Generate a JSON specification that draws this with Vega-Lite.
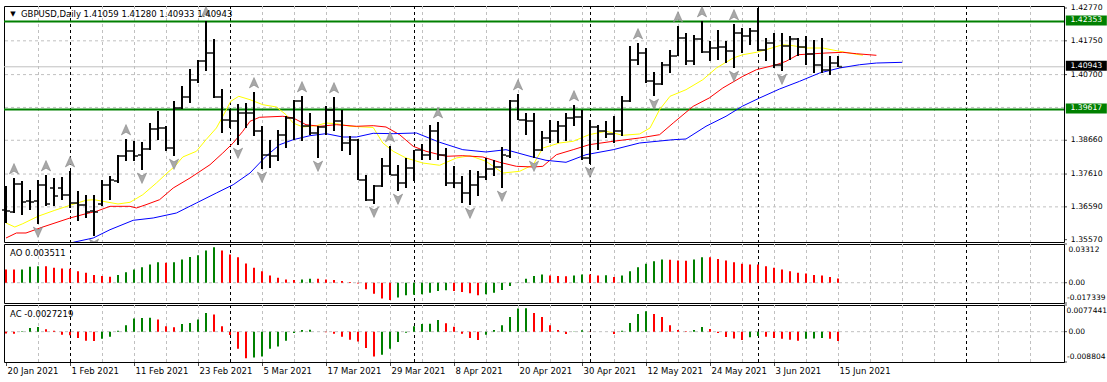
{
"$schema": "https://vega.github.io/schema/vega-lite/v6.json",
"background": "white",
"padding": {"left": 1, "top": 3, "right": 0, "bottom": 0},
"spacing": 2,
"bounds": "flush",
"resolve": {"scale": {"x": "independent", "y": "independent", "color": "independent"}},
"config": {
  "view": {"stroke": "#000000", "strokeWidth": 1},
  "text": {"font": "DejaVu Sans", "fontSize": 8.5, "color": "#000000"}
},
"datasets": {
  "vgrid": [{"i":4},{"i":12},{"i":16},{"i":20},{"i":24},{"i":32},{"i":36},{"i":40},{"i":44},{"i":48},{"i":52},{"i":56},{"i":60},{"i":64},{"i":68},{"i":72},{"i":76},{"i":80},{"i":84},{"i":88},{"i":92},{"i":96},{"i":100},{"i":104},{"i":108},{"i":112},{"i":116},{"i":124},{"i":128}],
  "seps": [{"i":8},{"i":28},{"i":51},{"i":73},{"i":94},{"i":120}],
  "hgrid": [{"p":1.4175},{"p":1.407},{"p":1.3968},{"p":1.3866},{"p":1.3761},{"p":1.3659}],
  "plab": [{"p":1.4277,"t":"1.42770"},{"p":1.4175,"t":"1.41750"},{"p":1.407,"t":"1.40700"},{"p":1.3866,"t":"1.38660"},{"p":1.3761,"t":"1.37610"},{"p":1.3659,"t":"1.36590"},{"p":1.3557,"t":"1.35570"}],
  "cur": [{"p":1.40943}],
  "lev": [{"p":1.42353},{"p":1.39617}],
  "gbox": [{"p":1.42353,"t":"1.42353"},{"p":1.39617,"t":"1.39617"}],
  "bbox": [{"p":1.40943,"t":"1.40943"}],
  "dates": [{"i":0,"t":"20 Jan 2021"},{"i":8,"t":"1 Feb 2021"},{"i":16,"t":"11 Feb 2021"},{"i":24,"t":"23 Feb 2021"},{"i":32,"t":"5 Mar 2021"},{"i":40,"t":"17 Mar 2021"},{"i":48,"t":"29 Mar 2021"},{"i":56,"t":"8 Apr 2021"},{"i":64,"t":"20 Apr 2021"},{"i":72,"t":"30 Apr 2021"},{"i":80,"t":"12 May 2021"},{"i":88,"t":"24 May 2021"},{"i":96,"t":"3 Jun 2021"},{"i":104,"t":"15 Jun 2021"}],
  "aolab": [{"v":0.03312,"t":"0.03312"},{"v":0,"t":"0.00"},{"v":-0.017339,"t":"-0.017339"}],
  "aclab": [{"v":0.0077441,"t":"0.0077441"},{"v":0,"t":"0.00"},{"v":-0.008804,"t":"-0.008804"}],
  "bars": [
{"i":0,"o":1.36493,"h":1.37238,"l":1.36089,"c":1.36462},
{"i":1,"o":1.36431,"h":1.37487,"l":1.36400,"c":1.37300},
{"i":2,"o":1.37300,"h":1.37394,"l":1.36337,"c":1.36741},
{"i":3,"o":1.36772,"h":1.37114,"l":1.36493,"c":1.36741},
{"i":4,"o":1.36772,"h":1.37425,"l":1.36058,"c":1.37269},
{"i":5,"o":1.37269,"h":1.37580,"l":1.36617,"c":1.36679},
{"i":6,"o":1.37176,"h":1.37487,"l":1.36617,"c":1.36928},
{"i":7,"o":1.37176,"h":1.37518,"l":1.36803,"c":1.36959},
{"i":8,"o":1.36959,"h":1.37704,"l":1.36555,"c":1.36710},
{"i":9,"o":1.36710,"h":1.37083,"l":1.36151,"c":1.36648},
{"i":10,"o":1.36648,"h":1.36959,"l":1.36244,"c":1.36431},
{"i":11,"o":1.36462,"h":1.36959,"l":1.35685,"c":1.36431},
{"i":12,"o":1.36679,"h":1.37425,"l":1.36617,"c":1.37269},
{"i":13,"o":1.37269,"h":1.37549,"l":1.36803,"c":1.37425},
{"i":14,"o":1.37394,"h":1.38202,"l":1.37332,"c":1.38170},
{"i":15,"o":1.38170,"h":1.38699,"l":1.38015,"c":1.38326},
{"i":16,"o":1.38326,"h":1.38637,"l":1.38015,"c":1.38170},
{"i":17,"o":1.38202,"h":1.38605,"l":1.37735,"c":1.38388},
{"i":18,"o":1.38388,"h":1.39196,"l":1.38357,"c":1.39010},
{"i":19,"o":1.39010,"h":1.39569,"l":1.38668,"c":1.39041},
{"i":20,"o":1.39041,"h":1.39103,"l":1.38326,"c":1.38419},
{"i":21,"o":1.38419,"h":1.39880,"l":1.38170,"c":1.39662},
{"i":22,"o":1.39662,"h":1.40346,"l":1.39631,"c":1.40004},
{"i":23,"o":1.40004,"h":1.40874,"l":1.39818,"c":1.40532},
{"i":24,"o":1.40532,"h":1.41154,"l":1.40439,"c":1.41123},
{"i":25,"o":1.41123,"h":1.42366,"l":1.40812,"c":1.41371},
{"i":26,"o":1.41371,"h":1.41806,"l":1.39973,"c":1.40004},
{"i":27,"o":1.40004,"h":1.40253,"l":1.38885,"c":1.39289},
{"i":28,"o":1.39289,"h":1.39631,"l":1.39041,"c":1.39258},
{"i":29,"o":1.39258,"h":1.39786,"l":1.38512,"c":1.39507},
{"i":30,"o":1.39507,"h":1.39818,"l":1.39041,"c":1.39507},
{"i":31,"o":1.39507,"h":1.40159,"l":1.38792,"c":1.38947},
{"i":32,"o":1.38947,"h":1.39103,"l":1.37767,"c":1.38202},
{"i":33,"o":1.38202,"h":1.38668,"l":1.37798,"c":1.38170},
{"i":34,"o":1.38170,"h":1.38978,"l":1.38015,"c":1.38823},
{"i":35,"o":1.38823,"h":1.39413,"l":1.38419,"c":1.39351},
{"i":36,"o":1.39351,"h":1.39911,"l":1.38668,"c":1.39880},
{"i":37,"o":1.39880,"h":1.40035,"l":1.38637,"c":1.39103},
{"i":38,"o":1.39103,"h":1.39507,"l":1.38823,"c":1.38885},
{"i":39,"o":1.38885,"h":1.39103,"l":1.38108,"c":1.39072},
{"i":40,"o":1.39072,"h":1.39724,"l":1.38823,"c":1.39600},
{"i":41,"o":1.39600,"h":1.40004,"l":1.38947,"c":1.39258},
{"i":42,"o":1.39258,"h":1.39600,"l":1.38326,"c":1.38574},
{"i":43,"o":1.38574,"h":1.38792,"l":1.38202,"c":1.38668},
{"i":44,"o":1.38668,"h":1.38699,"l":1.37425,"c":1.37425},
{"i":45,"o":1.37425,"h":1.37580,"l":1.36772,"c":1.36803},
{"i":46,"o":1.36803,"h":1.37269,"l":1.36679,"c":1.37238},
{"i":47,"o":1.37238,"h":1.38108,"l":1.37207,"c":1.37860},
{"i":48,"o":1.37860,"h":1.38481,"l":1.37580,"c":1.37580},
{"i":49,"o":1.37580,"h":1.37891,"l":1.37083,"c":1.37332},
{"i":50,"o":1.37332,"h":1.38108,"l":1.37176,"c":1.37798},
{"i":51,"o":1.37798,"h":1.38357,"l":1.37394,"c":1.38357},
{"i":52,"o":1.38357,"h":1.38543,"l":1.38046,"c":1.38202},
{"i":53,"o":1.38202,"h":1.39134,"l":1.38046,"c":1.38947},
{"i":54,"o":1.38947,"h":1.39227,"l":1.38046,"c":1.38202},
{"i":55,"o":1.38202,"h":1.38419,"l":1.37238,"c":1.37332},
{"i":56,"o":1.37332,"h":1.37860,"l":1.37176,"c":1.37332},
{"i":57,"o":1.37332,"h":1.37549,"l":1.36710,"c":1.37021},
{"i":58,"o":1.37021,"h":1.37735,"l":1.36648,"c":1.37269},
{"i":59,"o":1.37269,"h":1.37704,"l":1.36928,"c":1.37518},
{"i":60,"o":1.37518,"h":1.38108,"l":1.37425,"c":1.37767},
{"i":61,"o":1.37767,"h":1.38046,"l":1.37549,"c":1.37829},
{"i":62,"o":1.37829,"h":1.38450,"l":1.37176,"c":1.38202},
{"i":63,"o":1.38170,"h":1.39911,"l":1.38108,"c":1.39880},
{"i":64,"o":1.39880,"h":1.40097,"l":1.39289,"c":1.39289},
{"i":65,"o":1.39289,"h":1.39507,"l":1.38823,"c":1.39258},
{"i":66,"o":1.39258,"h":1.39507,"l":1.38108,"c":1.38357},
{"i":67,"o":1.38357,"h":1.38947,"l":1.38326,"c":1.38730},
{"i":68,"o":1.38730,"h":1.39289,"l":1.38574,"c":1.38947},
{"i":69,"o":1.38947,"h":1.39258,"l":1.38574,"c":1.39103},
{"i":70,"o":1.39103,"h":1.39507,"l":1.38637,"c":1.39351},
{"i":71,"o":1.39351,"h":1.39755,"l":1.39103,"c":1.39382},
{"i":72,"o":1.39382,"h":1.39600,"l":1.38046,"c":1.38108},
{"i":73,"o":1.38108,"h":1.39289,"l":1.37922,"c":1.39072},
{"i":74,"o":1.39072,"h":1.39134,"l":1.38357,"c":1.38947},
{"i":75,"o":1.38947,"h":1.39258,"l":1.38730,"c":1.38854},
{"i":76,"o":1.38854,"h":1.39413,"l":1.38574,"c":1.38947},
{"i":77,"o":1.38947,"h":1.40035,"l":1.38792,"c":1.39880},
{"i":78,"o":1.39880,"h":1.41589,"l":1.39849,"c":1.41154},
{"i":79,"o":1.41154,"h":1.41682,"l":1.40998,"c":1.41371},
{"i":80,"o":1.41371,"h":1.41527,"l":1.40439,"c":1.40501},
{"i":81,"o":1.40501,"h":1.40781,"l":1.40035,"c":1.40408},
{"i":82,"o":1.40408,"h":1.41092,"l":1.40377,"c":1.40998},
{"i":83,"o":1.40998,"h":1.41465,"l":1.40750,"c":1.41278},
{"i":84,"o":1.41278,"h":1.42210,"l":1.41278,"c":1.41837},
{"i":85,"o":1.41837,"h":1.41993,"l":1.40998,"c":1.41123},
{"i":86,"o":1.41123,"h":1.41931,"l":1.40998,"c":1.41806},
{"i":87,"o":1.41806,"h":1.42366,"l":1.41371,"c":1.41402},
{"i":88,"o":1.41402,"h":1.41744,"l":1.41123,"c":1.41527},
{"i":89,"o":1.41527,"h":1.42086,"l":1.41154,"c":1.41558},
{"i":90,"o":1.41558,"h":1.41744,"l":1.41060,"c":1.41433},
{"i":91,"o":1.41433,"h":1.42272,"l":1.40905,"c":1.41993},
{"i":92,"o":1.41993,"h":1.42148,"l":1.41371,"c":1.41900},
{"i":93,"o":1.41900,"h":1.42148,"l":1.41620,"c":1.42055},
{"i":94,"o":1.42055,"h":1.42770,"l":1.41433,"c":1.41465},
{"i":95,"o":1.41465,"h":1.41837,"l":1.41123,"c":1.41682},
{"i":96,"o":1.41682,"h":1.41993,"l":1.40905,"c":1.40998},
{"i":97,"o":1.40998,"h":1.41993,"l":1.40812,"c":1.41589},
{"i":98,"o":1.41589,"h":1.41900,"l":1.41154,"c":1.41806},
{"i":99,"o":1.41806,"h":1.41837,"l":1.41278,"c":1.41558},
{"i":100,"o":1.41558,"h":1.41900,"l":1.40998,"c":1.41340},
{"i":101,"o":1.41340,"h":1.41775,"l":1.40750,"c":1.40998},
{"i":102,"o":1.40998,"h":1.41837,"l":1.40750,"c":1.40843},
{"i":103,"o":1.40843,"h":1.41278,"l":1.40688,"c":1.41060},
{"i":104,"o":1.41059,"h":1.41280,"l":1.40933,"c":1.40943}
  ],
  "fu": [{"i":1,"p":1.37487},{"i":5,"p":1.37580},{"i":8,"p":1.37704},{"i":15,"p":1.38699},{"i":25,"p":1.42366},{"i":31,"p":1.40159},{"i":37,"p":1.40035},{"i":41,"p":1.40004},{"i":48,"p":1.38481},{"i":54,"p":1.39227},{"i":64,"p":1.40097},{"i":71,"p":1.39755},{"i":79,"p":1.41682},{"i":84,"p":1.42210},{"i":87,"p":1.42366},{"i":91,"p":1.42272},{"i":94,"p":1.42770}],
  "fd": [{"i":4,"p":1.36058},{"i":11,"p":1.35685},{"i":17,"p":1.37735},{"i":21,"p":1.38170},{"i":29,"p":1.38512},{"i":32,"p":1.37767},{"i":39,"p":1.38108},{"i":46,"p":1.36679},{"i":49,"p":1.37083},{"i":58,"p":1.36648},{"i":62,"p":1.37176},{"i":66,"p":1.38108},{"i":73,"p":1.37922},{"i":81,"p":1.40035},{"i":91,"p":1.40905},{"i":97,"p":1.40812}],
  "ma": [
{"s":"y","i":0,"p":1.36088},{"s":"y","i":1.1,"p":1.35964},{"s":"y","i":2.1,"p":1.36067},{"s":"y","i":4,"p":1.36297},{"s":"y","i":6.1,"p":1.36483},{"s":"y","i":8,"p":1.36639},{"s":"y","i":10,"p":1.36794},{"s":"y","i":11,"p":1.36813},{"s":"y","i":12.1,"p":1.36763},{"s":"y","i":14,"p":1.36679},{"s":"y","i":15.5,"p":1.36732},{"s":"y","i":17.1,"p":1.36968},{"s":"y","i":18.8,"p":1.37332},{"s":"y","i":20,"p":1.37611},{"s":"y","i":21.1,"p":1.37850},{"s":"y","i":22.1,"p":1.38140},{"s":"y","i":23.8,"p":1.38317},{"s":"y","i":25,"p":1.38677},{"s":"y","i":26.3,"p":1.39041},{"s":"y","i":27.1,"p":1.39405},{"s":"y","i":28.1,"p":1.39871},{"s":"y","i":29.1,"p":1.40026},{"s":"y","i":30.5,"p":1.39921},{"s":"y","i":32.1,"p":1.39765},{"s":"y","i":33.8,"p":1.39694},{"s":"y","i":35,"p":1.39454},{"s":"y","i":35.9,"p":1.39196},{"s":"y","i":37.1,"p":1.39072},{"s":"y","i":38.8,"p":1.39113},{"s":"y","i":40,"p":1.39196},{"s":"y","i":41.3,"p":1.39175},{"s":"y","i":43,"p":1.39094},{"s":"y","i":45.9,"p":1.39057},{"s":"y","i":47.1,"p":1.38575},{"s":"y","i":48.4,"p":1.38317},{"s":"y","i":50,"p":1.38109},{"s":"y","i":52.1,"p":1.37953},{"s":"y","i":54.2,"p":1.37882},{"s":"y","i":56.3,"p":1.38109},{"s":"y","i":58,"p":1.38180},{"s":"y","i":60,"p":1.38006},{"s":"y","i":62.1,"p":1.37642},{"s":"y","i":64.2,"p":1.37695},{"s":"y","i":65.9,"p":1.37900},{"s":"y","i":67.1,"p":1.38419},{"s":"y","i":69.2,"p":1.38575},{"s":"y","i":70.9,"p":1.38628},{"s":"y","i":72.9,"p":1.38833},{"s":"y","i":75,"p":1.38939},{"s":"y","i":77.1,"p":1.38814},{"s":"y","i":79.2,"p":1.38855},{"s":"y","i":80.5,"p":1.39041},{"s":"y","i":81.7,"p":1.39610},{"s":"y","i":83,"p":1.40026},{"s":"y","i":85,"p":1.40231},{"s":"y","i":87.1,"p":1.40541},{"s":"y","i":88.8,"p":1.40905},{"s":"y","i":90.9,"p":1.41216},{"s":"y","i":92.1,"p":1.41318},{"s":"y","i":93.8,"p":1.41393},{"s":"y","i":95,"p":1.41474},{"s":"y","i":97.1,"p":1.41629},{"s":"y","i":98.4,"p":1.41598},{"s":"y","i":100,"p":1.41526},{"s":"y","i":102.1,"p":1.41526},{"s":"y","i":104.2,"p":1.41424},{"s":"y","i":105.9,"p":1.41349},{"s":"y","i":107.1,"p":1.41300},
{"s":"r","i":0,"p":1.35622},{"s":"r","i":1.3,"p":1.35778},{"s":"r","i":2.5,"p":1.35778},{"s":"r","i":4.6,"p":1.35964},{"s":"r","i":8,"p":1.36244},{"s":"r","i":10,"p":1.36377},{"s":"r","i":11.3,"p":1.36452},{"s":"r","i":13,"p":1.36607},{"s":"r","i":15.5,"p":1.36607},{"s":"r","i":16.3,"p":1.36555},{"s":"r","i":17.5,"p":1.36657},{"s":"r","i":19.2,"p":1.36813},{"s":"r","i":20.9,"p":1.37176},{"s":"r","i":23,"p":1.37487},{"s":"r","i":25.5,"p":1.37900},{"s":"r","i":27.1,"p":1.38264},{"s":"r","i":28.4,"p":1.38575},{"s":"r","i":29.6,"p":1.38939},{"s":"r","i":30.5,"p":1.39249},{"s":"r","i":31.7,"p":1.39374},{"s":"r","i":34.6,"p":1.39405},{"s":"r","i":35.9,"p":1.39352},{"s":"r","i":37.5,"p":1.39144},{"s":"r","i":39.2,"p":1.39094},{"s":"r","i":41.3,"p":1.39144},{"s":"r","i":43.8,"p":1.39094},{"s":"r","i":45.9,"p":1.39113},{"s":"r","i":47.5,"p":1.39072},{"s":"r","i":49.2,"p":1.38833},{"s":"r","i":50.9,"p":1.38472},{"s":"r","i":52.5,"p":1.38317},{"s":"r","i":55,"p":1.38161},{"s":"r","i":57.1,"p":1.38180},{"s":"r","i":59.6,"p":1.38140},{"s":"r","i":61.7,"p":1.37975},{"s":"r","i":63.8,"p":1.37850},{"s":"r","i":65.9,"p":1.37829},{"s":"r","i":67.1,"p":1.37850},{"s":"r","i":68.8,"p":1.38211},{"s":"r","i":70.9,"p":1.38367},{"s":"r","i":72.9,"p":1.38522},{"s":"r","i":75.9,"p":1.38628},{"s":"r","i":79.2,"p":1.38730},{"s":"r","i":81.7,"p":1.38833},{"s":"r","i":83.4,"p":1.39196},{"s":"r","i":85.9,"p":1.39715},{"s":"r","i":87.9,"p":1.39973},{"s":"r","i":89.6,"p":1.40284},{"s":"r","i":92.1,"p":1.40646},{"s":"r","i":93.8,"p":1.40852},{"s":"r","i":96.3,"p":1.41007},{"s":"r","i":97.5,"p":1.41113},{"s":"r","i":99,"p":1.41318},{"s":"r","i":102.5,"p":1.41371},{"s":"r","i":104.6,"p":1.41393},{"s":"r","i":106.3,"p":1.41349},{"s":"r","i":108.8,"p":1.41300},
{"s":"b","i":8.4,"p":1.35488},{"s":"b","i":10.9,"p":1.35622},{"s":"b","i":13,"p":1.35880},{"s":"b","i":15.9,"p":1.36172},{"s":"b","i":18.4,"p":1.36244},{"s":"b","i":21.3,"p":1.36399},{"s":"b","i":23.8,"p":1.36710},{"s":"b","i":26.3,"p":1.37021},{"s":"b","i":28.4,"p":1.37279},{"s":"b","i":30.5,"p":1.37642},{"s":"b","i":32.5,"p":1.38161},{"s":"b","i":34.2,"p":1.38522},{"s":"b","i":35.9,"p":1.38677},{"s":"b","i":38,"p":1.38802},{"s":"b","i":40,"p":1.38864},{"s":"b","i":42.1,"p":1.38761},{"s":"b","i":43.8,"p":1.38761},{"s":"b","i":45.9,"p":1.38876},{"s":"b","i":48.4,"p":1.38864},{"s":"b","i":51.3,"p":1.38886},{"s":"b","i":54.2,"p":1.38597},{"s":"b","i":57.1,"p":1.38367},{"s":"b","i":60,"p":1.38295},{"s":"b","i":62.5,"p":1.38367},{"s":"b","i":65.5,"p":1.38161},{"s":"b","i":67.5,"p":1.38037},{"s":"b","i":70,"p":1.37975},{"s":"b","i":72.5,"p":1.38211},{"s":"b","i":75.9,"p":1.38367},{"s":"b","i":79.2,"p":1.38575},{"s":"b","i":83.4,"p":1.38677},{"s":"b","i":85,"p":1.38699},{"s":"b","i":87.5,"p":1.39094},{"s":"b","i":90,"p":1.39405},{"s":"b","i":92.1,"p":1.39725},{"s":"b","i":94.2,"p":1.39973},{"s":"b","i":96.7,"p":1.40253},{"s":"b","i":99.2,"p":1.40492},{"s":"b","i":101.7,"p":1.40750},{"s":"b","i":104.2,"p":1.40905},{"s":"b","i":106.7,"p":1.41007},{"s":"b","i":108.8,"p":1.41060},{"s":"b","i":112,"p":1.41082}
  ],
  "ao": [
{"i":0,"v":0.01133,"c":"r"},{"i":1,"v":0.01130,"c":"r"},{"i":2,"v":0.01140,"c":"g"},{"i":3,"v":0.01359,"c":"g"},{"i":4,"v":0.01416,"c":"g"},{"i":5,"v":0.01410,"c":"r"},{"i":6,"v":0.01274,"c":"r"},{"i":7,"v":0.01218,"c":"r"},{"i":8,"v":0.01189,"c":"r"},{"i":9,"v":0.00991,"c":"r"},{"i":10,"v":0.00850,"c":"r"},{"i":11,"v":0.00651,"c":"r"},{"i":12,"v":0.00566,"c":"r"},{"i":13,"v":0.00510,"c":"r"},{"i":14,"v":0.00651,"c":"g"},{"i":15,"v":0.00906,"c":"g"},{"i":16,"v":0.01133,"c":"g"},{"i":17,"v":0.01331,"c":"g"},{"i":18,"v":0.01558,"c":"g"},{"i":19,"v":0.01756,"c":"g"},{"i":20,"v":0.01699,"c":"r"},{"i":21,"v":0.01756,"c":"g"},{"i":22,"v":0.01982,"c":"g"},{"i":23,"v":0.02209,"c":"g"},{"i":24,"v":0.02351,"c":"g"},{"i":25,"v":0.02747,"c":"g"},{"i":26,"v":0.03030,"c":"g"},{"i":27,"v":0.02747,"c":"r"},{"i":28,"v":0.02407,"c":"r"},{"i":29,"v":0.02181,"c":"r"},{"i":30,"v":0.01643,"c":"r"},{"i":31,"v":0.01274,"c":"r"},{"i":32,"v":0.00991,"c":"r"},{"i":33,"v":0.00623,"c":"r"},{"i":34,"v":0.00425,"c":"r"},{"i":35,"v":0.00283,"c":"r"},{"i":36,"v":0.00227,"c":"r"},{"i":37,"v":0.00283,"c":"g"},{"i":38,"v":0.00340,"c":"g"},{"i":39,"v":0.00330,"c":"r"},{"i":40,"v":0.00283,"c":"r"},{"i":41,"v":0.00227,"c":"r"},{"i":42,"v":0.00142,"c":"r"},{"i":43,"v":0.00057,"c":"r"},{"i":44,"v":-0.00057,"c":"r"},{"i":45,"v":-0.00566,"c":"r"},{"i":46,"v":-0.00935,"c":"r"},{"i":47,"v":-0.01359,"c":"r"},{"i":48,"v":-0.01473,"c":"r"},{"i":49,"v":-0.01274,"c":"g"},{"i":50,"v":-0.01076,"c":"g"},{"i":51,"v":-0.01020,"c":"g"},{"i":52,"v":-0.00991,"c":"g"},{"i":53,"v":-0.00850,"c":"g"},{"i":54,"v":-0.00708,"c":"g"},{"i":55,"v":-0.00651,"c":"g"},{"i":56,"v":-0.00708,"c":"r"},{"i":57,"v":-0.00793,"c":"r"},{"i":58,"v":-0.00906,"c":"r"},{"i":59,"v":-0.01076,"c":"r"},{"i":60,"v":-0.00991,"c":"g"},{"i":61,"v":-0.00850,"c":"g"},{"i":62,"v":-0.00623,"c":"g"},{"i":63,"v":-0.00283,"c":"g"},{"i":64,"v":0.00030,"c":"g"},{"i":65,"v":0.00340,"c":"g"},{"i":66,"v":0.00566,"c":"g"},{"i":67,"v":0.00708,"c":"g"},{"i":68,"v":0.00623,"c":"r"},{"i":69,"v":0.00566,"c":"r"},{"i":70,"v":0.00560,"c":"r"},{"i":71,"v":0.00623,"c":"g"},{"i":72,"v":0.00708,"c":"g"},{"i":73,"v":0.00700,"c":"r"},{"i":74,"v":0.00623,"c":"r"},{"i":75,"v":0.00630,"c":"g"},{"i":76,"v":0.00481,"c":"r"},{"i":77,"v":0.00623,"c":"g"},{"i":78,"v":0.00991,"c":"g"},{"i":79,"v":0.01331,"c":"g"},{"i":80,"v":0.01614,"c":"g"},{"i":81,"v":0.01841,"c":"g"},{"i":82,"v":0.01982,"c":"g"},{"i":83,"v":0.01975,"c":"r"},{"i":84,"v":0.01897,"c":"r"},{"i":85,"v":0.01890,"c":"r"},{"i":86,"v":0.01982,"c":"g"},{"i":87,"v":0.02181,"c":"g"},{"i":88,"v":0.02175,"c":"r"},{"i":89,"v":0.02039,"c":"r"},{"i":90,"v":0.01897,"c":"r"},{"i":91,"v":0.01756,"c":"r"},{"i":92,"v":0.01614,"c":"r"},{"i":93,"v":0.01558,"c":"r"},{"i":94,"v":0.01550,"c":"r"},{"i":95,"v":0.01416,"c":"r"},{"i":96,"v":0.01274,"c":"r"},{"i":97,"v":0.01133,"c":"r"},{"i":98,"v":0.00991,"c":"r"},{"i":99,"v":0.00850,"c":"r"},{"i":100,"v":0.00793,"c":"r"},{"i":101,"v":0.00651,"c":"r"},{"i":102,"v":0.00623,"c":"r"},{"i":103,"v":0.00481,"c":"r"},{"i":104,"v":0.003511,"c":"r"}
  ],
  "ac": [
{"i":0,"v":-0.00050,"c":"r"},{"i":1,"v":-0.00058,"c":"r"},{"i":2,"v":0.00010,"c":"g"},{"i":3,"v":0.00107,"c":"g"},{"i":4,"v":0.00136,"c":"g"},{"i":5,"v":0.00068,"c":"r"},{"i":6,"v":0.00029,"c":"r"},{"i":7,"v":-0.00088,"c":"r"},{"i":8,"v":-0.00107,"c":"r"},{"i":9,"v":-0.00185,"c":"r"},{"i":10,"v":-0.00263,"c":"r"},{"i":11,"v":-0.00270,"c":"r"},{"i":12,"v":-0.00204,"c":"g"},{"i":13,"v":-0.00146,"c":"g"},{"i":14,"v":0.00030,"c":"g"},{"i":15,"v":0.00185,"c":"g"},{"i":16,"v":0.00379,"c":"g"},{"i":17,"v":0.00399,"c":"g"},{"i":18,"v":0.00405,"c":"g"},{"i":19,"v":0.00350,"c":"r"},{"i":20,"v":0.00156,"c":"r"},{"i":21,"v":0.00126,"c":"r"},{"i":22,"v":0.00224,"c":"g"},{"i":23,"v":0.00253,"c":"g"},{"i":24,"v":0.00350,"c":"g"},{"i":25,"v":0.00545,"c":"g"},{"i":26,"v":0.00496,"c":"r"},{"i":27,"v":0.00156,"c":"r"},{"i":28,"v":-0.00100,"c":"r"},{"i":29,"v":-0.00496,"c":"r"},{"i":30,"v":-0.00769,"c":"r"},{"i":31,"v":-0.00750,"c":"g"},{"i":32,"v":-0.00720,"c":"g"},{"i":33,"v":-0.00496,"c":"g"},{"i":34,"v":-0.00428,"c":"g"},{"i":35,"v":-0.00263,"c":"g"},{"i":36,"v":-0.00039,"c":"g"},{"i":37,"v":0.00049,"c":"g"},{"i":38,"v":0.00055,"c":"g"},{"i":39,"v":-0.00003,"c":"r"},{"i":40,"v":-0.00020,"c":"r"},{"i":41,"v":-0.00058,"c":"r"},{"i":42,"v":-0.00146,"c":"r"},{"i":43,"v":-0.00234,"c":"r"},{"i":44,"v":-0.00282,"c":"r"},{"i":45,"v":-0.00477,"c":"r"},{"i":46,"v":-0.00720,"c":"r"},{"i":47,"v":-0.00671,"c":"g"},{"i":48,"v":-0.00496,"c":"g"},{"i":49,"v":-0.00302,"c":"g"},{"i":50,"v":-0.00029,"c":"g"},{"i":51,"v":0.00156,"c":"g"},{"i":52,"v":0.00224,"c":"g"},{"i":53,"v":0.00230,"c":"g"},{"i":54,"v":0.00340,"c":"g"},{"i":55,"v":0.00243,"c":"r"},{"i":56,"v":0.00146,"c":"r"},{"i":57,"v":-0.00058,"c":"r"},{"i":58,"v":-0.00185,"c":"r"},{"i":59,"v":-0.00243,"c":"r"},{"i":60,"v":-0.00088,"c":"g"},{"i":61,"v":0.00049,"c":"g"},{"i":62,"v":0.00185,"c":"g"},{"i":63,"v":0.00428,"c":"g"},{"i":64,"v":0.00671,"c":"g"},{"i":65,"v":0.00680,"c":"g"},{"i":66,"v":0.00545,"c":"r"},{"i":67,"v":0.00428,"c":"r"},{"i":68,"v":0.00185,"c":"r"},{"i":69,"v":0.00050,"c":"r"},{"i":70,"v":-0.00068,"c":"r"},{"i":71,"v":0.00005,"c":"g"},{"i":72,"v":0.00039,"c":"g"},{"i":73,"v":0.00003,"c":"r"},{"i":74,"v":-0.00002,"c":"r"},{"i":75,"v":-0.00005,"c":"r"},{"i":76,"v":-0.00068,"c":"r"},{"i":77,"v":0.00030,"c":"g"},{"i":78,"v":0.00253,"c":"g"},{"i":79,"v":0.00516,"c":"g"},{"i":80,"v":0.00594,"c":"g"},{"i":81,"v":0.00516,"c":"r"},{"i":82,"v":0.00428,"c":"r"},{"i":83,"v":0.00185,"c":"r"},{"i":84,"v":0.00049,"c":"r"},{"i":85,"v":0.00010,"c":"r"},{"i":86,"v":0.00049,"c":"g"},{"i":87,"v":0.00136,"c":"g"},{"i":88,"v":0.00078,"c":"r"},{"i":89,"v":-0.00039,"c":"r"},{"i":90,"v":-0.00156,"c":"r"},{"i":91,"v":-0.00195,"c":"r"},{"i":92,"v":-0.00243,"c":"r"},{"i":93,"v":-0.00165,"c":"g"},{"i":94,"v":-0.00126,"c":"g"},{"i":95,"v":-0.00146,"c":"r"},{"i":96,"v":-0.00185,"c":"r"},{"i":97,"v":-0.00204,"c":"r"},{"i":98,"v":-0.00234,"c":"r"},{"i":99,"v":-0.00263,"c":"r"},{"i":100,"v":-0.00204,"c":"g"},{"i":101,"v":-0.00200,"c":"g"},{"i":102,"v":-0.00185,"c":"g"},{"i":103,"v":-0.00204,"c":"r"},{"i":104,"v":-0.0027219,"c":"r"}
  ]
},
"vconcat": [
{
  "width": 1060, "height": 236,
  "layer": [
    {"data": {"name": "vgrid"}, "mark": {"type": "rule", "stroke": "#c0c0c0", "strokeDash": [3,3], "strokeWidth": 1, "xOffset": 0.5},
     "encoding": {"x": {"field": "i", "type": "quantitative", "scale": {"domain": [-0.25, 132.25], "nice": false, "zero": false}, "axis": null}}},
    {"data": {"name": "hgrid"}, "mark": {"type": "rule", "stroke": "#c0c0c0", "strokeDash": [3,3], "strokeWidth": 1},
     "encoding": {"y": {"field": "p", "type": "quantitative", "scale": {"domain": [1.35498, 1.42832], "nice": false, "zero": false}, "axis": null}}},
    {"data": {"name": "seps"}, "mark": {"type": "rule", "stroke": "#000000", "strokeDash": [3,3], "strokeWidth": 1, "xOffset": 0.5},
     "encoding": {"x": {"field": "i", "type": "quantitative", "scale": {"domain": [-0.25, 132.25], "nice": false, "zero": false}, "axis": null}}},
    {"data": {"name": "cur"}, "mark": {"type": "rule", "stroke": "#c0c0c0", "strokeWidth": 1},
     "encoding": {"y": {"field": "p", "type": "quantitative", "scale": {"domain": [1.35498, 1.42832], "nice": false, "zero": false}, "axis": null}}},
    {"data": {"name": "lev"}, "mark": {"type": "rule", "stroke": "#008000", "strokeWidth": 2},
     "encoding": {"y": {"field": "p", "type": "quantitative", "scale": {"domain": [1.35498, 1.42832], "nice": false, "zero": false}, "axis": null}}},
    {"data": {"name": "ma"}, "mark": {"type": "line", "strokeWidth": 1, "clip": true},
     "encoding": {
       "x": {"field": "i", "type": "quantitative", "scale": {"domain": [-0.25, 132.25], "nice": false, "zero": false}, "axis": null},
       "y": {"field": "p", "type": "quantitative", "scale": {"domain": [1.35498, 1.42832], "nice": false, "zero": false}, "axis": null},
       "color": {"field": "s", "type": "nominal", "scale": {"domain": ["y", "r", "b"], "range": ["#ffff00", "#ff0000", "#0000ff"]}, "legend": null}}},
    {"data": {"name": "bars"}, "mark": {"type": "rule", "stroke": "#000000", "strokeWidth": 2, "clip": true},
     "encoding": {
       "x": {"field": "i", "type": "quantitative", "scale": {"domain": [-0.25, 132.25], "nice": false, "zero": false}, "axis": null},
       "y": {"field": "h", "type": "quantitative", "scale": {"domain": [1.35498, 1.42832], "nice": false, "zero": false}, "axis": null},
       "y2": {"field": "l"}}},
    {"data": {"name": "bars"}, "mark": {"type": "tick", "orient": "horizontal", "size": 3, "thickness": 2, "xOffset": -2.5, "color": "#000000"},
     "encoding": {
       "x": {"field": "i", "type": "quantitative", "scale": {"domain": [-0.25, 132.25], "nice": false, "zero": false}, "axis": null},
       "y": {"field": "o", "type": "quantitative", "scale": {"domain": [1.35498, 1.42832], "nice": false, "zero": false}, "axis": null}}},
    {"data": {"name": "bars"}, "mark": {"type": "tick", "orient": "horizontal", "size": 3, "thickness": 2, "xOffset": 2.5, "color": "#000000"},
     "encoding": {
       "x": {"field": "i", "type": "quantitative", "scale": {"domain": [-0.25, 132.25], "nice": false, "zero": false}, "axis": null},
       "y": {"field": "c", "type": "quantitative", "scale": {"domain": [1.35498, 1.42832], "nice": false, "zero": false}, "axis": null}}},
    {"data": {"name": "fu"}, "mark": {"type": "point", "shape": "M0,-1L0.85,0.9L0,0.4L-0.85,0.9Z", "size": 120, "filled": true, "fill": "#a8a8a8", "stroke": "#7c7c7c", "strokeWidth": 0.5, "opacity": 1, "yOffset": -9, "clip": true},
     "encoding": {
       "x": {"field": "i", "type": "quantitative", "scale": {"domain": [-0.25, 132.25], "nice": false, "zero": false}, "axis": null},
       "y": {"field": "p", "type": "quantitative", "scale": {"domain": [1.35498, 1.42832], "nice": false, "zero": false}, "axis": null}}},
    {"data": {"name": "fd"}, "mark": {"type": "point", "shape": "M0,1L0.85,-0.9L0,-0.4L-0.85,-0.9Z", "size": 120, "filled": true, "fill": "#a8a8a8", "stroke": "#7c7c7c", "strokeWidth": 0.5, "opacity": 1, "yOffset": 8, "clip": true},
     "encoding": {
       "x": {"field": "i", "type": "quantitative", "scale": {"domain": [-0.25, 132.25], "nice": false, "zero": false}, "axis": null},
       "y": {"field": "p", "type": "quantitative", "scale": {"domain": [1.35498, 1.42832], "nice": false, "zero": false}, "axis": null}}},
    {"data": {"name": "plab"}, "mark": {"type": "tick", "orient": "horizontal", "size": 3, "thickness": 1, "color": "#000000"},
     "encoding": {
       "x": {"datum": 132.4375, "type": "quantitative", "scale": {"domain": [-0.25, 132.25], "nice": false, "zero": false}, "axis": null},
       "y": {"field": "p", "type": "quantitative", "scale": {"domain": [1.35498, 1.42832], "nice": false, "zero": false}, "axis": null}}},
    {"data": {"name": "plab"}, "mark": {"type": "text", "align": "left", "baseline": "middle", "fontSize": 7.7},
     "encoding": {
       "x": {"datum": 133.1, "type": "quantitative", "scale": {"domain": [-0.25, 132.25], "nice": false, "zero": false}, "axis": null},
       "y": {"field": "p", "type": "quantitative", "scale": {"domain": [1.35498, 1.42832], "nice": false, "zero": false}, "axis": null},
       "text": {"field": "t"}}},
    {"data": {"name": "gbox"}, "mark": {"type": "point", "shape": "M-1,-0.244L1,-0.244L1,0.244L-1,0.244Z", "size": 1681, "filled": true, "fill": "#008000", "opacity": 1, "strokeWidth": 0, "yOffset": -1},
     "encoding": {
       "x": {"datum": 135.04, "type": "quantitative", "scale": {"domain": [-0.25, 132.25], "nice": false, "zero": false}, "axis": null},
       "y": {"field": "p", "type": "quantitative", "scale": {"domain": [1.35498, 1.42832], "nice": false, "zero": false}, "axis": null}}},
    {"data": {"name": "bbox"}, "mark": {"type": "point", "shape": "M-1,-0.244L1,-0.244L1,0.244L-1,0.244Z", "size": 1681, "filled": true, "fill": "#000000", "opacity": 1, "strokeWidth": 0, "yOffset": -1},
     "encoding": {
       "x": {"datum": 135.04, "type": "quantitative", "scale": {"domain": [-0.25, 132.25], "nice": false, "zero": false}, "axis": null},
       "y": {"field": "p", "type": "quantitative", "scale": {"domain": [1.35498, 1.42832], "nice": false, "zero": false}, "axis": null}}},
    {"data": {"name": "gbox"}, "mark": {"type": "text", "color": "#ffffff", "align": "center", "baseline": "middle", "yOffset": -1, "fontSize": 7.7},
     "encoding": {
       "x": {"datum": 135.04, "type": "quantitative", "scale": {"domain": [-0.25, 132.25], "nice": false, "zero": false}, "axis": null},
       "y": {"field": "p", "type": "quantitative", "scale": {"domain": [1.35498, 1.42832], "nice": false, "zero": false}, "axis": null},
       "text": {"field": "t"}}},
    {"data": {"name": "bbox"}, "mark": {"type": "text", "color": "#ffffff", "align": "center", "baseline": "middle", "yOffset": -1, "fontSize": 7.7},
     "encoding": {
       "x": {"datum": 135.04, "type": "quantitative", "scale": {"domain": [-0.25, 132.25], "nice": false, "zero": false}, "axis": null},
       "y": {"field": "p", "type": "quantitative", "scale": {"domain": [1.35498, 1.42832], "nice": false, "zero": false}, "axis": null},
       "text": {"field": "t"}}},
    {"data": {"values": [{"t": "GBPUSD,Daily  1.41059 1.41280 1.40933 1.40943"}]}, "mark": {"type": "text", "align": "left", "baseline": "middle"},
     "encoding": {
       "x": {"datum": 1.875, "type": "quantitative", "scale": {"domain": [-0.25, 132.25], "nice": false, "zero": false}, "axis": null},
       "y": {"datum": 1.42583, "type": "quantitative", "scale": {"domain": [1.35498, 1.42832], "nice": false, "zero": false}, "axis": null},
       "text": {"field": "t"}}},
    {"data": {"values": [{"t": "▼"}]}, "mark": {"type": "text", "align": "center", "baseline": "middle", "fontSize": 7},
     "encoding": {
       "x": {"datum": 0.875, "type": "quantitative", "scale": {"domain": [-0.25, 132.25], "nice": false, "zero": false}, "axis": null},
       "y": {"datum": 1.42583, "type": "quantitative", "scale": {"domain": [1.35498, 1.42832], "nice": false, "zero": false}, "axis": null},
       "text": {"field": "t"}}}
  ]
},
{
  "width": 1060, "height": 59,
  "layer": [
    {"data": {"name": "vgrid"}, "mark": {"type": "rule", "stroke": "#c0c0c0", "strokeDash": [3,3], "strokeWidth": 1, "xOffset": 0.5},
     "encoding": {"x": {"field": "i", "type": "quantitative", "scale": {"domain": [-0.25, 132.25], "nice": false, "zero": false}, "axis": null}}},
    {"data": {"name": "seps"}, "mark": {"type": "rule", "stroke": "#000000", "strokeDash": [3,3], "strokeWidth": 1, "xOffset": 0.5},
     "encoding": {"x": {"field": "i", "type": "quantitative", "scale": {"domain": [-0.25, 132.25], "nice": false, "zero": false}, "axis": null}}},
    {"data": {"values": [{"v": 0}]}, "mark": {"type": "rule", "stroke": "#c0c0c0", "strokeDash": [3,3], "strokeWidth": 1},
     "encoding": {"y": {"field": "v", "type": "quantitative", "scale": {"domain": [-0.017339, 0.03312], "nice": false, "zero": false}, "axis": null}}},
    {"data": {"name": "ao"}, "mark": {"type": "rule", "strokeWidth": 2},
     "encoding": {
       "x": {"field": "i", "type": "quantitative", "scale": {"domain": [-0.25, 132.25], "nice": false, "zero": false}, "axis": null},
       "y": {"field": "v", "type": "quantitative", "scale": {"domain": [-0.017339, 0.03312], "nice": false, "zero": false}, "axis": null},
       "y2": {"datum": 0},
       "color": {"field": "c", "type": "nominal", "scale": {"domain": ["g", "r"], "range": ["#008000", "#ff0000"]}, "legend": null}}},
    {"data": {"name": "aolab"}, "mark": {"type": "tick", "orient": "horizontal", "size": 3, "thickness": 1, "color": "#000000"},
     "encoding": {
       "x": {"datum": 132.4375, "type": "quantitative", "scale": {"domain": [-0.25, 132.25], "nice": false, "zero": false}, "axis": null},
       "y": {"field": "v", "type": "quantitative", "scale": {"domain": [-0.017339, 0.03312], "nice": false, "zero": false}, "axis": null}}},
    {"data": {"name": "aolab"}, "transform": [{"filter": "datum.v > 0.01"}], "mark": {"type": "text", "align": "left", "baseline": "top", "fontSize": 7.5, "yOffset": 2},
     "encoding": {
       "x": {"datum": 132.8, "type": "quantitative", "scale": {"domain": [-0.25, 132.25], "nice": false, "zero": false}, "axis": null},
       "y": {"field": "v", "type": "quantitative", "scale": {"domain": [-0.017339, 0.03312], "nice": false, "zero": false}, "axis": null},
       "text": {"field": "t"}}},
    {"data": {"name": "aolab"}, "transform": [{"filter": "datum.v == 0"}], "mark": {"type": "text", "align": "left", "baseline": "middle", "fontSize": 7.5},
     "encoding": {
       "x": {"datum": 132.8, "type": "quantitative", "scale": {"domain": [-0.25, 132.25], "nice": false, "zero": false}, "axis": null},
       "y": {"field": "v", "type": "quantitative", "scale": {"domain": [-0.017339, 0.03312], "nice": false, "zero": false}, "axis": null},
       "text": {"field": "t"}}},
    {"data": {"name": "aolab"}, "transform": [{"filter": "datum.v < -0.01"}], "mark": {"type": "text", "align": "left", "baseline": "bottom", "fontSize": 7.5, "yOffset": -1},
     "encoding": {
       "x": {"datum": 132.62, "type": "quantitative", "scale": {"domain": [-0.25, 132.25], "nice": false, "zero": false}, "axis": null},
       "y": {"field": "v", "type": "quantitative", "scale": {"domain": [-0.017339, 0.03312], "nice": false, "zero": false}, "axis": null},
       "text": {"field": "t"}}},
    {"data": {"values": [{"t": "AO 0.003511"}]}, "mark": {"type": "text", "align": "left", "baseline": "middle"},
     "encoding": {
       "x": {"datum": 0.5, "type": "quantitative", "scale": {"domain": [-0.25, 132.25], "nice": false, "zero": false}, "axis": null},
       "y": {"datum": 0.02568, "type": "quantitative", "scale": {"domain": [-0.017339, 0.03312], "nice": false, "zero": false}, "axis": null},
       "text": {"field": "t"}}}
  ]
},
{
  "width": 1060, "height": 57,
  "layer": [
    {"data": {"name": "vgrid"}, "mark": {"type": "rule", "stroke": "#c0c0c0", "strokeDash": [3,3], "strokeWidth": 1, "xOffset": 0.5},
     "encoding": {"x": {"field": "i", "type": "quantitative", "scale": {"domain": [-0.25, 132.25], "nice": false, "zero": false}, "axis": null}}},
    {"data": {"name": "seps"}, "mark": {"type": "rule", "stroke": "#000000", "strokeDash": [3,3], "strokeWidth": 1, "xOffset": 0.5},
     "encoding": {"x": {"field": "i", "type": "quantitative", "scale": {"domain": [-0.25, 132.25], "nice": false, "zero": false}, "axis": null}}},
    {"data": {"values": [{"v": 0}]}, "mark": {"type": "rule", "stroke": "#c0c0c0", "strokeDash": [3,3], "strokeWidth": 1},
     "encoding": {"y": {"field": "v", "type": "quantitative", "scale": {"domain": [-0.008804, 0.0077441], "nice": false, "zero": false}, "axis": null}}},
    {"data": {"name": "ac"}, "mark": {"type": "rule", "strokeWidth": 2},
     "encoding": {
       "x": {"field": "i", "type": "quantitative", "scale": {"domain": [-0.25, 132.25], "nice": false, "zero": false}, "axis": null},
       "y": {"field": "v", "type": "quantitative", "scale": {"domain": [-0.008804, 0.0077441], "nice": false, "zero": false}, "axis": null},
       "y2": {"datum": 0},
       "color": {"field": "c", "type": "nominal", "scale": {"domain": ["g", "r"], "range": ["#008000", "#ff0000"]}, "legend": null}}},
    {"data": {"name": "aclab"}, "mark": {"type": "tick", "orient": "horizontal", "size": 3, "thickness": 1, "color": "#000000"},
     "encoding": {
       "x": {"datum": 132.4375, "type": "quantitative", "scale": {"domain": [-0.25, 132.25], "nice": false, "zero": false}, "axis": null},
       "y": {"field": "v", "type": "quantitative", "scale": {"domain": [-0.008804, 0.0077441], "nice": false, "zero": false}, "axis": null}}},
    {"data": {"name": "aclab"}, "transform": [{"filter": "datum.v > 0.001"}], "mark": {"type": "text", "align": "left", "baseline": "top", "fontSize": 7.5, "yOffset": 2},
     "encoding": {
       "x": {"datum": 132.55, "type": "quantitative", "scale": {"domain": [-0.25, 132.25], "nice": false, "zero": false}, "axis": null},
       "y": {"field": "v", "type": "quantitative", "scale": {"domain": [-0.008804, 0.0077441], "nice": false, "zero": false}, "axis": null},
       "text": {"field": "t"}}},
    {"data": {"name": "aclab"}, "transform": [{"filter": "datum.v == 0"}], "mark": {"type": "text", "align": "left", "baseline": "middle", "fontSize": 7.5},
     "encoding": {
       "x": {"datum": 132.8, "type": "quantitative", "scale": {"domain": [-0.25, 132.25], "nice": false, "zero": false}, "axis": null},
       "y": {"field": "v", "type": "quantitative", "scale": {"domain": [-0.008804, 0.0077441], "nice": false, "zero": false}, "axis": null},
       "text": {"field": "t"}}},
    {"data": {"name": "aclab"}, "transform": [{"filter": "datum.v < -0.001"}], "mark": {"type": "text", "align": "left", "baseline": "bottom", "fontSize": 7.5, "yOffset": -1},
     "encoding": {
       "x": {"datum": 132.62, "type": "quantitative", "scale": {"domain": [-0.25, 132.25], "nice": false, "zero": false}, "axis": null},
       "y": {"field": "v", "type": "quantitative", "scale": {"domain": [-0.008804, 0.0077441], "nice": false, "zero": false}, "axis": null},
       "text": {"field": "t"}}},
    {"data": {"name": "dates"}, "mark": {"type": "tick", "orient": "vertical", "size": 4, "thickness": 1, "color": "#000000", "xOffset": 0.5},
     "encoding": {
       "x": {"field": "i", "type": "quantitative", "scale": {"domain": [-0.25, 132.25], "nice": false, "zero": false}, "axis": null},
       "y": {"datum": -0.009385, "type": "quantitative", "scale": {"domain": [-0.008804, 0.0077441], "nice": false, "zero": false}, "axis": null}}},
    {"data": {"name": "dates"}, "mark": {"type": "text", "align": "left", "baseline": "middle", "xOffset": 1.5},
     "encoding": {
       "x": {"field": "i", "type": "quantitative", "scale": {"domain": [-0.25, 132.25], "nice": false, "zero": false}, "axis": null},
       "y": {"datum": -0.011562, "type": "quantitative", "scale": {"domain": [-0.008804, 0.0077441], "nice": false, "zero": false}, "axis": null},
       "text": {"field": "t"}}},
    {"data": {"values": [{"t": "AC -0.0027219"}]}, "mark": {"type": "text", "align": "left", "baseline": "middle"},
     "encoding": {
       "x": {"datum": 0.5, "type": "quantitative", "scale": {"domain": [-0.25, 132.25], "nice": false, "zero": false}, "axis": null},
       "y": {"datum": 0.00513, "type": "quantitative", "scale": {"domain": [-0.008804, 0.0077441], "nice": false, "zero": false}, "axis": null},
       "text": {"field": "t"}}}
  ]
}
]
}
